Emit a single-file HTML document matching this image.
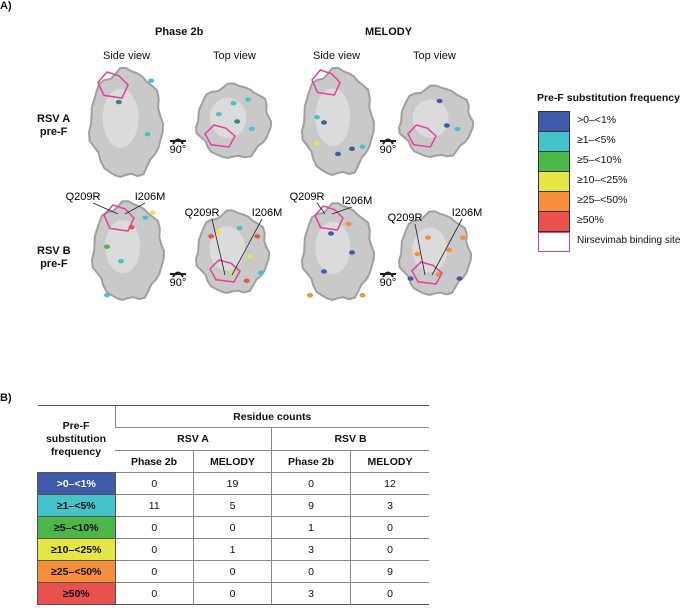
<!DOCTYPE html>
<html><head><meta charset="utf-8">
<style>
body{margin:0;width:685px;height:608px;background:#fff;font-family:"Liberation Sans",Arial,sans-serif;position:relative;overflow:hidden;color:#111}
.t{position:absolute;font-size:11px;white-space:nowrap}
.lt{font-size:10.5px}
.b{font-weight:bold}
table{position:absolute;left:37px;top:405px;border-collapse:collapse;font-size:10.5px;border-bottom:1px solid #555}
td{text-align:center;padding:0;height:21px;border-left:1px solid #888;border-top:1px solid #888}
td:first-child{border-left:none}
</style></head><body>
<div class="t b" style="left:0;top:0">A)</div>
<div class="t b" style="left:155px;top:26px">Phase 2b</div>
<div class="t b" style="left:365px;top:26px">MELODY</div>
<div class="t" style="left:103px;top:50px">Side view</div>
<div class="t" style="left:213px;top:50px">Top view</div>
<div class="t" style="left:313px;top:50px">Side view</div>
<div class="t" style="left:413px;top:50px">Top view</div>
<div class="t b" style="left:37px;top:113px;line-height:13px;text-align:center">RSV A<br>pre-F</div>
<div class="t b" style="left:37px;top:245px;line-height:13px;text-align:center">RSV B<br>pre-F</div>
<svg id="s" width="685" height="390" style="position:absolute;left:0;top:0"></svg>
<div id="legend"></div>
<div class="t b" style="left:0;top:392px">B)</div>
<table id="tb"></table>
<script>
const bins=['>0–<1%','≥1–<5%','≥5–<10%','≥10–<25%','≥25–<50%','≥50%'];
const colors=['#3f5aa8','#45c3cb','#4bb748','#e5e545','#f68f3b','#e9514f'];
const a2b=[0,11,0,0,0,0];
const aMel=[19,5,0,1,0,0];
const b2b=[0,9,1,3,0,3];
const bMel=[12,3,0,0,9,0];
const s=document.getElementById('s');const NS='http://www.w3.org/2000/svg';
function el(t,a,p){const e=document.createElementNS(NS,t);for(const k in a)e.setAttribute(k,a[k]);(p||s).appendChild(e);return e;}
function blob(x0,y0,x1,y1,name,spots){
 const cx=(x0+x1)/2,cy=(y0+y1)/2,rx=(x1-x0)/2,ry=(y1-y0)/2;let d='';
 for(let i=0;i<=40;i++){const a=i/40*Math.PI*2;const r=1+0.04*Math.sin(a*7)+0.03*Math.cos(a*11);
  d+=(i?'L':'M')+(cx+rx*r*Math.cos(a)).toFixed(1)+' '+(cy+ry*r*Math.sin(a)).toFixed(1);}
 const p=el('path',{d:d+'Z',fill:'#c9c9c9',stroke:'#a0a0a0','stroke-width':2});
 
 el('ellipse',{cx:cx-rx*0.15,cy:cy-ry*0.1,rx:rx*0.5,ry:ry*0.55,fill:'#e0e0e0',opacity:0.8});
 spots.forEach(q=>el('ellipse',{cx:x0+q[0]*(x1-x0),cy:y0+q[1]*(y1-y0),rx:3,ry:2.2,fill:q[2]}));
}
function ring(x,y,w,h){el('path',{d:`M${x} ${y+h*0.4}L${x+w*0.3} ${y}L${x+w*0.7} ${y+h*0.15}L${x+w} ${y+h*0.5}L${x+w*0.8} ${y+h}L${x+w*0.2} ${y+h*0.9}Z`,fill:'none',stroke:'#e6409a','stroke-width':1.5});}
const C=colors;
blob(90,70,162,177,'rsv-a-phase2b-side',[[0.85,0.1,C[1]],[0.8,0.6,C[1]],[0.4,0.3,'#2a8a8a']]);ring(98,72,30,26);
blob(197,85,270,158,'rsv-a-phase2b-top',[[0.5,0.25,C[1]],[0.7,0.2,C[1]],[0.3,0.4,C[1]],[0.75,0.6,C[1]],[0.55,0.5,'#2a8a8a']]);ring(205,125,30,22);
blob(303,70,373,175,'rsv-a-melody-side',[[0.3,0.5,C[0]],[0.2,0.7,C[3]],[0.7,0.75,C[0]],[0.85,0.73,C[1]],[0.5,0.8,C[0]],[0.2,0.45,C[1]]]);ring(312,70,28,25);
blob(400,87,472,157,'rsv-a-melody-top',[[0.65,0.55,C[0]],[0.8,0.6,C[1]],[0.55,0.2,C[0]]]);ring(408,125,28,22);
blob(93,203,163,300,'rsv-b-phase2b-side',[[0.85,0.1,C[3]],[0.75,0.15,C[1]],[0.55,0.25,C[5]],[0.2,0.45,C[2]],[0.4,0.6,C[1]],[0.2,0.95,C[1]]]);ring(104,205,30,26);
blob(197,212,268,293,'rsv-b-phase2b-top',[[0.2,0.3,C[5]],[0.3,0.25,C[3]],[0.6,0.2,C[1]],[0.85,0.3,C[5]],[0.75,0.55,C[3]],[0.5,0.75,C[3]],[0.7,0.85,C[5]],[0.9,0.75,C[1]]]);ring(210,260,30,22);
blob(303,205,373,300,'rsv-b-melody-side',[[0.4,0.3,C[0]],[0.7,0.5,C[0]],[0.3,0.7,C[0]],[0.1,0.95,C[4]],[0.85,0.95,C[4]],[0.65,0.2,C[4]]]);ring(315,206,28,24);
blob(400,213,470,295,'rsv-b-melody-top',[[0.4,0.3,C[4]],[0.7,0.45,C[4]],[0.9,0.3,C[4]],[0.25,0.5,C[4]],[0.15,0.8,C[0]],[0.85,0.8,C[0]],[0.55,0.75,C[4]]]);ring(412,262,30,22);
[[83,196,'Q209R',118,214],[150,196,'I206M',125,214],[202,212,'Q209R',225,275],[267,212,'I206M',232,275],[307,196,'Q209R',325,214],[357,200,'I206M',332,214],[405,217,'Q209R',425,275],[467,212,'I206M',432,275]].forEach(c=>{
 const t=el('text',{x:c[0],y:c[1]+4,'font-size':11,'text-anchor':'middle','font-family':'Liberation Sans'});t.textContent=c[2];
 
 el('line',{x1:c[0]+(c[3]>c[0]?10:-5),y1:c[1]+7,x2:c[3],y2:c[4],stroke:'#222','stroke-width':0.8});
});
[[178,147],[178,280],[388,147],[388,280]].forEach(p=>{
 el('path',{d:`M${p[0]-8} ${p[1]-6}h16M${p[0]-5} ${p[1]-3}q5 -9 10 0`,stroke:'#222','stroke-width':2,fill:'none'});
 const t=el('text',{x:p[0],y:p[1]+6,'font-size':11,'text-anchor':'middle','font-family':'Liberation Sans'});t.textContent='90°';
 
});
const lg=document.getElementById('legend');
let h='<div class="t b lt" style="left:537px;top:92px">Pre-F substitution frequency</div>';
bins.forEach((b,i)=>{h+=`<div style="position:absolute;left:538px;top:${111+i*20}px;width:30px;height:19px;background:${colors[i]};border:1px solid #333"></div><div class="t lt" style="left:577px;top:${114+i*20}px">${b.replace('<','&lt;').replace('>','&gt;')}</div>`;});
h+='<div style="position:absolute;left:538px;top:232px;width:30px;height:18px;border:1px solid #e6409a"></div><div class="t" style="left:577px;top:235px;font-size:10px">Nirsevimab binding site</div>';
lg.innerHTML=h;
const tb=document.getElementById('tb');
let r='<tr><td rowspan="3" class="b" style="width:77px;border-top:1px solid #555;line-height:13px">Pre-F<br>substitution<br>frequency</td><td colspan="4" class="b" style="height:21px;border-top:1px solid #555">Residue counts</td></tr>';
r+='<tr><td colspan="2" class="b" style="height:22px">RSV A</td><td colspan="2" class="b">RSV B</td></tr>';
r+='<tr><td class="b" style="width:78px;height:21px">Phase 2b</td><td class="b" style="width:77px">MELODY</td><td class="b" style="width:78px">Phase 2b</td><td class="b" style="width:78px">MELODY</td></tr>';
bins.forEach((b,i)=>{r+=`<tr><td class="b" style="background:${colors[i]};color:${i==0?'#fff':'#111'};border:1px solid #555">${b.replace('<','&lt;').replace('>','&gt;')}</td><td>${a2b[i]}</td><td>${aMel[i]}</td><td>${b2b[i]}</td><td>${bMel[i]}</td></tr>`;});
tb.innerHTML=r;
</script>
</body></html>
